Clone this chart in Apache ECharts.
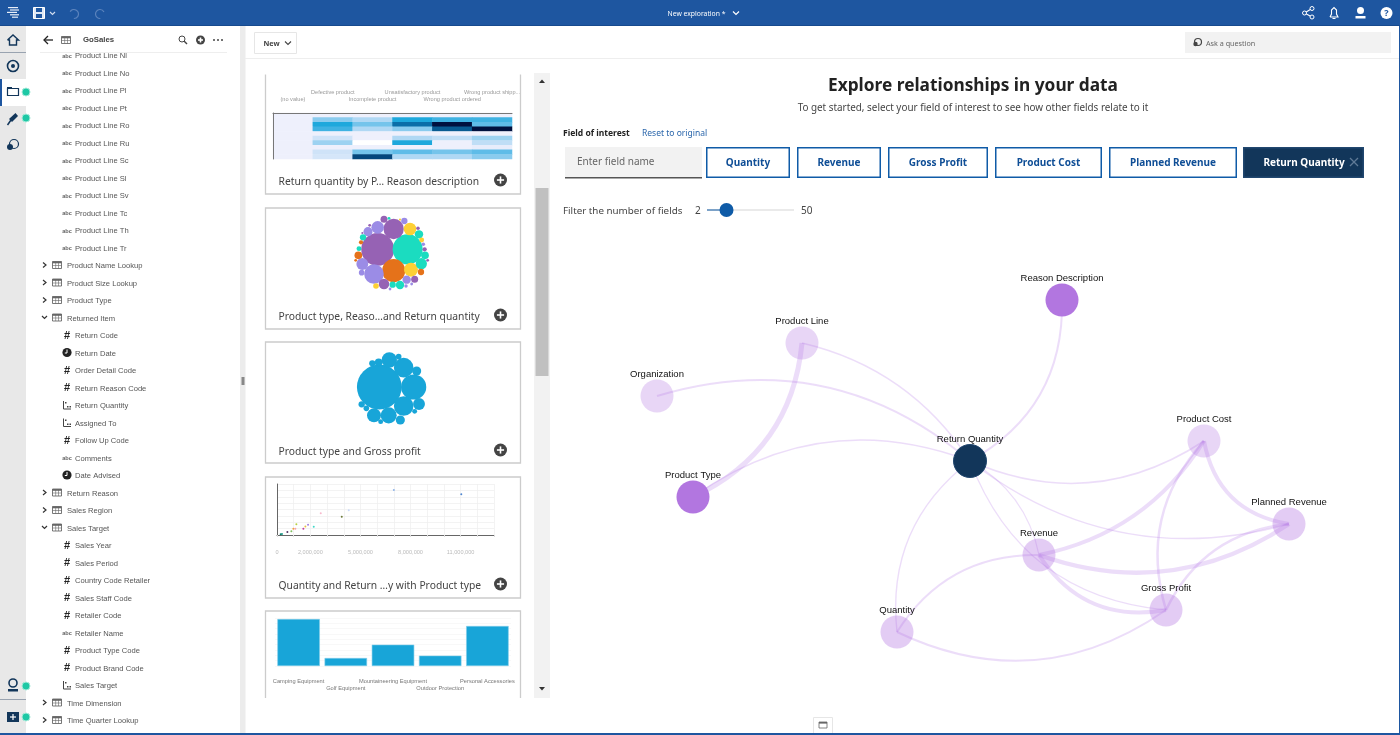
<!DOCTYPE html>
<html>
<head>
<meta charset="utf-8">
<title>Explore relationships in your data</title>
<script src="https://cdn.jsdelivr.net/npm/echarts@6/dist/echarts.min.js"></script>
<style>
  html, body { margin: 0; padding: 0; background: #fff; }
  #main { width: 1400px; height: 735px; }
</style>
</head>
<body>
<div id="main"></div>
<script>
// network: fields of interest
const nodeNames = ['Reason Description', 'Product Line', 'Organization', 'Product Type', 'Return Quantity', 'Product Cost', 'Planned Revenue', 'Revenue', 'Gross Profit', 'Quantity'];
const nodeX = [1062, 802, 657, 693, 970, 1204, 1289, 1039, 1166, 897];
const nodeY = [300, 343, 396, 497, 461, 441, 524, 555, 610, 632];
const nodeStrength = [1, 0.3, 0.3, 1, 0, 0.3, 0.37, 0.37, 0.37, 0.37]; // 0 = the selected field
const linkSource = [4, 4, 4, 4, 1, 4, 4, 4, 4, 4, 7, 7, 7, 7, 5, 5, 8, 9];
const linkTarget = [0, 1, 2, 3, 3, 5, 6, 7, 8, 9, 5, 6, 8, 9, 6, 8, 6, 8];
const linkWidth = [2, 1.5, 2, 1.5, 5, 1.5, 1.5, 1.2, 1.2, 1.4, 4, 4.5, 4, 2, 4, 2.5, 2.5, 2];
const linkBend = [-0.3, -0.2, -0.27, -0.265, 0.285, -0.27, -0.25, 0.23, -0.31, -0.28, -0.215, -0.25, -0.33, -0.28, -0.35, -0.28, 0.28, -0.29];

// heatmap thumbnail
const heatCategories = ['(no value)', 'Defective product', 'Incomplete product', 'Unsatisfactory product', 'Wrong product ordered', 'Wrong product shipp...'];
const heatRows = [
  [1, 1, 1, 1, 1, 1],
  [1, 4, 3, 6, 5.5, 5.5],
  [1, 6, 4.5, 7, 9, 5],
  [1, 5.5, 3, 4, 7.5, 9],
  [1, 1, 1, 1, 1, 1],
  [1, 2, 1, 3, 2.5, 3.5],
  [1, 3.5, 0, 6, 1, 2.5],
  [1, 1, 1, 1, 1, 1.2],
  [1, 2, 4.5, 5, 4.5, 5],
  [1, 1.8, 8, 3, 3, 4]
];

// packed bubbles, product type / reason / return quantity
const bubbleX = [383, 473, 431, 431, 372, 483, 480, 383, 354, 337, 514, 507, 525, 325, 402, 402, 463, 339, 333, 327, 513, 494, 470, 450, 428, 378, 335, 515, 520, 524, 533, 317, 504, 417, 450, 359, 337, 420, 468, 485];
const bubbleY = [568, 568, 632, 507, 642, 629, 507, 502, 515, 612, 611, 523, 586, 586, 672, 478, 483, 532, 547, 566, 636, 658, 659, 675, 674, 678, 638, 540, 553, 568, 601, 601, 505, 475, 479, 496, 519, 687, 678, 672];
const bubbleSize = [47, 43, 33, 29, 28, 20, 18, 18, 13, 17, 16, 12, 11, 11, 15, 10, 9, 9, 6, 7, 9, 10, 12, 12, 9, 8, 8, 7, 5, 6, 4, 4, 5, 4, 3, 4, 3, 4, 5, 4];
const bubbleType = [0, 1, 2, 0, 3, 4, 4, 3, 3, 3, 1, 1, 1, 2, 0, 0, 3, 1, 2, 1, 2, 0, 3, 1, 1, 4, 3, 4, 3, 0, 0, 2, 0, 1, 4, 0, 0, 3, 3, 3];
const bubbleColors = ['#9662b4', '#1bdcc0', '#e5721a', '#9b8ce6', '#fdd035'];

// packed bubbles, product type and gross profit
const profitX = [388, 491, 461, 418, 461, 507, 500, 386, 367, 446, 372, 416, 451, 335, 349, 392, 494];
const profitY = [141, 141, 83, 60, 198, 192, 93, 67, 70, 50, 226, 226, 240, 193, 205, 245, 214];
const profitSize = [64, 36, 28, 22, 28, 17, 13, 11, 9, 8, 20, 23, 13, 9, 8, 7, 7];

// scatter thumbnail
const scatterQuantity = [7000000, 11040000, 4300000, 2620000, 3880000, 2200000, 1160000, 1860000, 1700000, 1580000, 1100000, 980000, 860000, 620000, 300000, 220000];
const scatterReturns = [7.06, 6.4, 3.9, 3.4, 2.86, 1.3, 1.7, 1.6, 1.35, 0.99, 0.99, 0.99, 0.57, 0.47, 0.16, 0.1];
const scatterColors = ['#8fb4e8', '#4f86d0', '#c8d8f8', '#f8b8cc', '#6b7a3a', '#40d8c8', '#b8d040', '#a080e0', '#e8c040', '#c040a0', '#f8a0b0', '#f0a040', '#80c060', '#503060', '#20a090', '#108070'];
const scatterTicks = [0, 2000000, 5000000, 8000000, 11000000];

// bar thumbnail
const barCategories = ['Camping Equipment', 'Golf Equipment', 'Mountaineering Equipment', 'Outdoor Protection', 'Personal Accessories'];
const barValues = [8.8, 1.5, 4, 1.95, 7.5];

// data tree on the left
const treeLabels = ['Product Line Nl', 'Product Line No', 'Product Line Pl', 'Product Line Pt', 'Product Line Ro', 'Product Line Ru', 'Product Line Sc', 'Product Line Sl', 'Product Line Sv', 'Product Line Tc', 'Product Line Th', 'Product Line Tr', 'Product Name Lookup', 'Product Size Lookup', 'Product Type', 'Returned Item', 'Return Code', 'Return Date', 'Order Detail Code', 'Return Reason Code', 'Return Quantity', 'Assigned To', 'Follow Up Code', 'Comments', 'Date Advised', 'Return Reason', 'Sales Region', 'Sales Target', 'Sales Year', 'Sales Period', 'Country Code Retailer', 'Sales Staff Code', 'Retailer Code', 'Retailer Name', 'Product Type Code', 'Product Brand Code', 'Sales Target', 'Time Dimension', 'Time Quarter Lookup'];
const treeKinds = ['abc', 'abc', 'abc', 'abc', 'abc', 'abc', 'abc', 'abc', 'abc', 'abc', 'abc', 'abc', 'closed', 'closed', 'closed', 'open', 'num', 'time', 'num', 'num', 'measure', 'measure', 'num', 'abc', 'time', 'closed', 'closed', 'open', 'num', 'num', 'num', 'num', 'num', 'abc', 'num', 'num', 'measure', 'closed', 'closed'];

const fieldButtons = ['Quantity', 'Revenue', 'Gross Profit', 'Product Cost', 'Planned Revenue', 'Return Quantity'];
const fieldButtonLeft = [706, 797, 888, 995, 1109, 1243];
const fieldButtonRight = [790, 881, 988, 1102, 1237, 1364];
const cardTitles = ['Return quantity by P… Reason description', 'Product type, Reaso…and Return quantity', 'Product type and Gross profit', 'Quantity and Return …y with Product type'];
const cardTitleY = [181, 316, 451, 585];

const UI_FONT = '"Noto Sans", sans-serif';
const TREE_FONT = '"Liberation Sans", sans-serif';
const NAVY = '#12365a';
const BLUE = '#0f5ba7';

const shapes = [];

function rect(x, y, w, h, fill, stroke, lineWidth) {
  shapes.push({
    type: 'rect', silent: true,
    shape: { x: x, y: y, width: w, height: h },
    style: { fill: fill || 'none', stroke: stroke || 'none', lineWidth: lineWidth || 0 }
  });
}

function circle(x, y, r, fill, stroke, lineWidth) {
  shapes.push({
    type: 'circle', silent: true,
    shape: { cx: x, cy: y, r: r },
    style: { fill: fill || 'none', stroke: stroke || 'none', lineWidth: lineWidth || 0 }
  });
}

function poly(points, stroke, lineWidth, fill) {
  shapes.push({
    type: fill ? 'polygon' : 'polyline', silent: true,
    shape: { points: points },
    style: { fill: fill || 'none', stroke: stroke || 'none', lineWidth: lineWidth || 1 }
  });
}

function text(x, y, str, size, color, opts) {
  opts = opts || {};
  shapes.push({
    type: 'text', silent: true,
    style: {
      x: x, y: y + 1, text: str, fill: color,
      font: (opts.bold ? 'bold ' : '') + size + 'px ' + (opts.font || UI_FONT),
      align: opts.align || 'left', verticalAlign: 'middle'
    }
  });
}

function plusIcon(x, y, r) {
  circle(x, y, r, '#444');
  rect(x - r * 0.55, y - 0.8, r * 1.1, 1.6, '#fff');
  rect(x - 0.8, y - r * 0.55, 1.6, r * 1.1, '#fff');
}

function tableIcon(x, y) {
  rect(x - 4.5, y - 3.5, 9, 7, '#fff', '#555', 0.8);
  rect(x - 4.5, y - 3.5, 9, 1.8, '#666');
  rect(x - 1.5, y - 3.5, 0.6, 7, '#666');
  rect(x + 1.2, y - 3.5, 0.6, 7, '#666');
  rect(x - 4.5, y + 0.2, 9, 0.6, '#666');
}

function drawTree() {
  treeLabels.forEach(function (label, i) {
    const y = 55 + i * 17.5;
    const kind = treeKinds[i];
    if (kind === 'closed' || kind === 'open') {
      if (kind === 'closed') poly([[43, y - 2.5], [46, y], [43, y + 2.5]], '#333', 1.2);
      else poly([[42, y - 1.5], [44.5, y + 1], [47, y - 1.5]], '#333', 1.2);
      tableIcon(57, y);
      text(67, y, label, 7.6, '#555', { font: TREE_FONT });
      return;
    }
    if (kind === 'abc') text(67, y, 'abc', 5.6, '#666', { font: TREE_FONT, bold: true, align: 'center' });
    if (kind === 'num') text(67, y - 0.5, '#', 11, '#222', { font: TREE_FONT, bold: true, align: 'center' });
    if (kind === 'time') {
      circle(67, y, 4.6, '#222');
      poly([[67, y - 3], [67, y + 0.5], [64.8, y + 0.5]], '#fff', 1);
    }
    if (kind === 'measure') {
      poly([[63.5, y - 4], [63.5, y + 4], [71, y + 4]], '#444', 1);
      rect(65, y - 3, 1.5, 1.5, '#444');
      rect(67, y + 1, 1.5, 1.5, '#444');
      rect(69.5, y + 1, 1.5, 1.5, '#444');
    }
    text(75, y, label, 7.6, '#555', { font: TREE_FONT });
  });
}

function drawShell() {
  // left tree first, its header covers the cut off first row
  drawTree();
  rect(26, 26, 214, 26, '#fff');
  rect(40, 52, 187, 1, '#eee');
  poly([[53, 40], [44, 40]], '#222', 1.3);
  poly([[48, 36], [44, 40], [48, 44]], '#222', 1.3);
  tableIcon(66, 40);
  text(83, 38.5, 'GoSales', 7.8, '#444', { font: TREE_FONT, bold: true });
  circle(182, 39, 3, null, '#444', 1);
  poly([[184, 41], [187, 44]], '#444', 1.4);
  plusIcon(200.5, 40, 4.5);
  [214, 218, 222].forEach(function (x) { circle(x, 40, 1, '#444'); });

  // top bar
  rect(0, 0, 1400, 25, '#1e56a0');
  rect(0, 25, 1400, 1, '#174a8e');
  [[8, 18], [10, 19], [7, 17], [10, 19], [12, 18]].forEach(function (l, i) {
    rect(l[0], 7 + i * 2.4, l[1] - l[0], 1.2, '#e8eef8');
  });
  rect(33.5, 7.5, 11, 11, '#dfe8f5', '#fff', 1);
  rect(36, 8, 6, 4, '#1e56a0');
  rect(36, 14, 6, 4, '#1e56a0');
  poly([[50, 12], [52.5, 14.5], [55, 12]], '#cfdcef', 1.2);
  shapes.push({ type: 'arc', silent: true, shape: { cx: 74, cy: 14, r: 4.5, startAngle: -2.6, endAngle: 1.6 }, style: { fill: 'none', stroke: '#5b83bd', lineWidth: 1.2 } });
  shapes.push({ type: 'arc', silent: true, shape: { cx: 100, cy: 14, r: 4.5, startAngle: 1.5, endAngle: 5.8 }, style: { fill: 'none', stroke: '#5b83bd', lineWidth: 1.2 } });
  text(696.5, 13, 'New exploration *', 6.8, '#fff', { align: 'center' });
  poly([[733, 11.5], [736, 14.5], [739, 11.5]], '#fff', 1.2);
  // share, bell, user, help
  poly([[1312, 8.5], [1304.5, 13], [1312, 17]], '#fff', 1.1);
  circle(1304.5, 13, 2, '#1e56a0', '#fff', 1);
  circle(1312, 8.5, 2, '#1e56a0', '#fff', 1);
  circle(1312, 17, 2, '#1e56a0', '#fff', 1);
  poly([[1330, 17], [1331.5, 14], [1331.5, 10], [1334, 7.5], [1336.5, 10], [1336.5, 14], [1338, 17], [1330, 17]], '#fff', 1.1);
  rect(1332.5, 18, 3, 1, '#fff');
  circle(1360.5, 10.5, 3.5, '#fff');
  rect(1355.5, 16, 10, 2.5, '#fff');
  circle(1386.5, 13, 6, '#fff');
  text(1386.5, 12.5, '?', 9, '#1e56a0', { bold: true, align: 'center' });

  // side rail
  rect(0, 26, 26, 707, '#e8e8e8');
  rect(0, 79, 26, 27, '#fff');
  rect(0, 79, 2, 27, '#1e56a0');
  rect(0, 52, 26, 1, '#99a3b0');
  rect(0, 699, 26, 1, '#99a3b0');
  poly([[7.5, 40], [13, 35], [18.5, 40], [16.5, 40], [16.5, 45], [9.5, 45], [9.5, 40], [7.5, 40]], NAVY, 1.4);
  circle(13, 66, 5.5, null, NAVY, 1.6);
  circle(13, 66, 2, NAVY);
  rect(7.5, 88.5, 11, 7, '#fff', NAVY, 1.2);
  rect(7, 87, 5, 1.5, NAVY);
  poly([[15.5, 113], [9, 119], [12, 122], [18, 116]], null, 1, NAVY);
  poly([[7.5, 125], [11, 120]], NAVY, 1.5);
  circle(14, 144, 4.5, null, NAVY, 1.2);
  circle(10, 147, 3, NAVY);
  circle(13, 683, 4, null, NAVY, 1.6);
  rect(8, 689, 10, 2.5, NAVY);
  rect(7, 712, 12, 10, NAVY);
  rect(10, 716.4, 6, 1.2, '#fff');
  rect(12.4, 714, 1.2, 6, '#fff');
  [92, 118, 686, 717].forEach(function (y) { circle(26, y, 4, '#1ec8a5', '#a5ead9', 1); });

  // splitter and toolbars
  rect(240, 26, 5.5, 707, '#ececec');
  rect(241.5, 377, 3, 8, '#888');
  rect(245, 58, 1155, 1, '#eee');
  rect(254.5, 32.5, 42, 21, '#fff', '#e6e6e6', 1);
  text(263.5, 43, 'New', 7.2, '#444', { bold: true });
  poly([[285, 41.5], [288, 44.5], [291, 41.5]], '#444', 1.1);
  rect(1185, 32, 206, 21, '#f2f2f2');
  circle(1198, 42, 3.5, null, '#444', 1.2);
  circle(1195.5, 44, 2.2, '#444');
  text(1206, 43, 'Ask a question', 7.2, '#666');

  // cards
  rect(265.5, 73, 255, 121, '#fff', '#ccc', 1.3);
  rect(264, 70, 258, 4.5, '#fff');
  rect(265.5, 208, 255, 121, '#fff', '#ccc', 1.3);
  rect(265.5, 342, 255, 121, '#fff', '#ccc', 1.3);
  rect(265.5, 477, 255, 121, '#fff', '#ccc', 1.3);
  rect(265.5, 611, 255, 92, '#fff', '#ccc', 1.3);
  rect(260, 698, 265, 8, '#fff');
  cardTitles.forEach(function (title, i) {
    text(278.5, cardTitleY[i], title, 10.3, '#444');
    plusIcon(500.5, cardTitleY[i] - 1, 6.5);
  });
  rect(534, 73, 16, 625, '#f2f2f2');
  rect(535.5, 188, 13, 188, '#c0c0c0');
  poly([[539, 83], [542, 79.5], [545, 83]], null, 1, '#333');
  poly([[539, 687], [542, 690.5], [545, 687]], null, 1, '#333');

  // explore panel
  text(973, 85, 'Explore relationships in your data', 17.3, '#222', { bold: true, align: 'center' });
  text(973, 107, 'To get started, select your field of interest to see how other fields relate to it', 9.9, '#444', { align: 'center' });
  text(563, 133, 'Field of interest', 8.5, '#222', { bold: true });
  text(642, 133, 'Reset to original', 8.5, '#2a66ab');
  rect(565, 147, 137, 30, '#f2f2f2');
  rect(565, 177, 137, 1.4, '#555');
  text(577, 161, 'Enter field name', 10, '#666');
  fieldButtons.forEach(function (name, i) {
    const last = i === fieldButtons.length - 1;
    const w = fieldButtonRight[i] - fieldButtonLeft[i];
    rect(fieldButtonLeft[i] + 0.75, 147.75, w - 1.5, 29.5, last ? NAVY : '#fff', last ? '#21476f' : BLUE, 1.5);
    text(last ? 1304 : fieldButtonLeft[i] + w / 2, 162, name, 10, last ? '#fff' : '#0f4e96', { bold: true, align: 'center' });
  });
  poly([[1350, 158], [1358, 166]], '#5f7a96', 1.2);
  poly([[1358, 158], [1350, 166]], '#5f7a96', 1.2);
  text(563, 210, 'Filter the number of fields', 9.8, '#444');
  text(695, 210, '2', 10, '#444');
  rect(707, 209.5, 87, 1, '#d5d5d5');
  rect(707, 209.5, 20, 1, BLUE);
  circle(726.5, 210, 7, BLUE);
  text(801, 210, '50', 10, '#444');

  // bottom
  rect(813.5, 717.5, 19, 17, '#fff', '#e6e6e6', 1);
  rect(819, 722, 8, 6, '#fff', '#666', 0.8);
  rect(819, 722, 8, 1.6, '#666');
  rect(0, 733, 1400, 2, '#1e56a0');
  rect(1399, 26, 1, 707, '#1e56a0');
}

drawShell();

const hidden = { show: false };

// one grid for each thumbnail and a page wide one for the network
const grids = [
  { left: 273, top: 113, width: 239, height: 46 },
  { left: 250, top: 60, width: 310, height: 280 },
  { left: 250, top: 340, width: 310, height: 380 },
  { left: 277, top: 484, width: 217, height: 51 },
  { left: 275, top: 618, width: 236, height: 48 },
  { left: 0, top: 0, width: 1400, height: 735 }
];

const xAxes = [
  {
    gridIndex: 0, type: 'category', position: 'top', data: heatCategories, z: 5,
    axisLine: { lineStyle: { color: '#777', width: 1 } }, axisTick: hidden,
    axisLabel: {
      interval: 0, hideOverlap: false, fontSize: 5.6, color: '#999', margin: 10, lineHeight: 7, fontFamily: TREE_FONT,
      formatter: function (v, i) { return i % 2 ? v + '\n' : v; }
    }
  },
  { gridIndex: 1, type: 'value', min: 0, max: 930, show: false },
  { gridIndex: 2, type: 'value', min: 0, max: 930, show: false },
  {
    gridIndex: 3, type: 'value', min: 0, max: 13000000, interval: 1000000,
    axisLine: { show: true, onZero: false, lineStyle: { color: '#666', width: 1 } },
    axisTick: { show: true, length: 2, lineStyle: { color: '#ddd' } },
    splitLine: { show: true, lineStyle: { color: '#eee', width: 0.7 } },
    axisLabel: {
      fontSize: 5.6, color: '#bbb', margin: 14, fontFamily: TREE_FONT,
      customValues: scatterTicks,
      formatter: function (v) { return v.toLocaleString('en-US'); }
    }
  },
  {
    gridIndex: 4, type: 'category', data: barCategories,
    axisLine: hidden, axisTick: hidden,
    axisLabel: {
      interval: 0, hideOverlap: false, fontSize: 5.7, color: '#777', margin: 12, lineHeight: 7, fontFamily: TREE_FONT,
      formatter: function (v, i) { return i % 2 ? '\n' + v : v; }
    }
  },
  { gridIndex: 5, type: 'value', min: 0, max: 1400, show: false }
];

const yAxes = [
  {
    gridIndex: 0, type: 'category', inverse: true, data: heatRows.map(function (r, i) { return i; }), z: 5,
    axisLine: { lineStyle: { color: '#777', width: 1 } }, axisTick: hidden, axisLabel: hidden
  },
  { gridIndex: 1, type: 'value', min: 0, max: 840, inverse: true, show: false },
  { gridIndex: 2, type: 'value', min: 0, max: 1140, inverse: true, show: false },
  {
    gridIndex: 3, type: 'value', min: 0, max: 8, interval: 1,
    axisLine: { show: true, lineStyle: { color: '#666', width: 1 } }, axisTick: hidden, axisLabel: hidden,
    splitLine: { show: true, lineStyle: { color: '#eee', width: 0.7 } }
  },
  {
    gridIndex: 4, type: 'value', min: 0, max: 9, interval: 1,
    axisLine: hidden, axisTick: hidden, axisLabel: hidden,
    splitLine: { show: true, lineStyle: { color: '#f3f3f3', width: 0.6 } }
  },
  { gridIndex: 5, type: 'value', min: 0, max: 735, inverse: true, show: false }
];

const heatData = [];
heatRows.forEach(function (row, r) {
  row.forEach(function (v, c) { heatData.push([c, r, v]); });
});

function nodeColor(strength) {
  if (strength === 0) return NAVY;
  return 'rgba(178, 118, 224, ' + strength + ')';
}

const nodes = nodeNames.map(function (name, i) {
  return {
    name: name,
    value: [nodeX[i], nodeY[i]],
    itemStyle: { color: nodeColor(nodeStrength[i]), borderColor: nodeStrength[i] === 0 ? '#21476f' : 'transparent', borderWidth: 1 }
  };
});

const links = linkSource.map(function (s, i) {
  return { source: s, target: linkTarget[i], lineStyle: { width: linkWidth[i], curveness: linkBend[i] } };
});

const option = {
  animation: false,
  backgroundColor: '#fff',
  grid: grids,
  xAxis: xAxes,
  yAxis: yAxes,
  graphic: { elements: shapes },
  visualMap: {
    show: false, seriesIndex: 0, min: 0, max: 9,
    inRange: { color: ['#ffffff', '#eef0fc', '#cfe3f8', '#b0d8f4', '#8acbee', '#5fbce8', '#1ea8dc', '#0b6ea8', '#05477c', '#00113f'] }
  },
  series: [
    { type: 'heatmap', xAxisIndex: 0, yAxisIndex: 0, data: heatData, silent: true },
    {
      type: 'scatter', xAxisIndex: 1, yAxisIndex: 1, silent: true,
      data: bubbleX.map(function (x, i) { return [x, bubbleY[i], bubbleSize[i], bubbleType[i]]; }),
      symbolSize: function (d) { return d[2] * 0.7; },
      itemStyle: { opacity: 1, color: function (p) { return bubbleColors[p.data[3]]; } }
    },
    {
      type: 'scatter', xAxisIndex: 2, yAxisIndex: 2, silent: true,
      data: profitX.map(function (x, i) { return [x, profitY[i], profitSize[i]]; }),
      symbolSize: function (d) { return d[2] * 0.7; },
      itemStyle: { opacity: 1, color: '#18a5d8' }
    },
    {
      type: 'scatter', xAxisIndex: 3, yAxisIndex: 3, silent: true, symbolSize: 2,
      data: scatterQuantity.map(function (x, i) { return [x, scatterReturns[i]]; }),
      itemStyle: { opacity: 1, color: function (p) { return scatterColors[p.dataIndex]; } }
    },
    {
      type: 'bar', xAxisIndex: 4, yAxisIndex: 4, silent: true, data: barValues, barWidth: '90%',
      itemStyle: { color: '#18a5d8', borderColor: '#7fcdea', borderWidth: 0.6 }
    },
    {
      type: 'graph', coordinateSystem: 'cartesian2d', xAxisIndex: 5, yAxisIndex: 5, layout: 'none', silent: true,
      symbolSize: 33, data: nodes, links: links,
      label: { show: true, position: 'top', distance: 0, formatter: '{b}', fontSize: 9.5, color: '#111', fontFamily: TREE_FONT },
      lineStyle: { color: '#b476e6', opacity: 0.25 },
      emphasis: { disabled: true }
    }
  ]
};

const chart = echarts.init(document.getElementById('main'));
chart.setOption(option);
</script>
</body>
</html>
